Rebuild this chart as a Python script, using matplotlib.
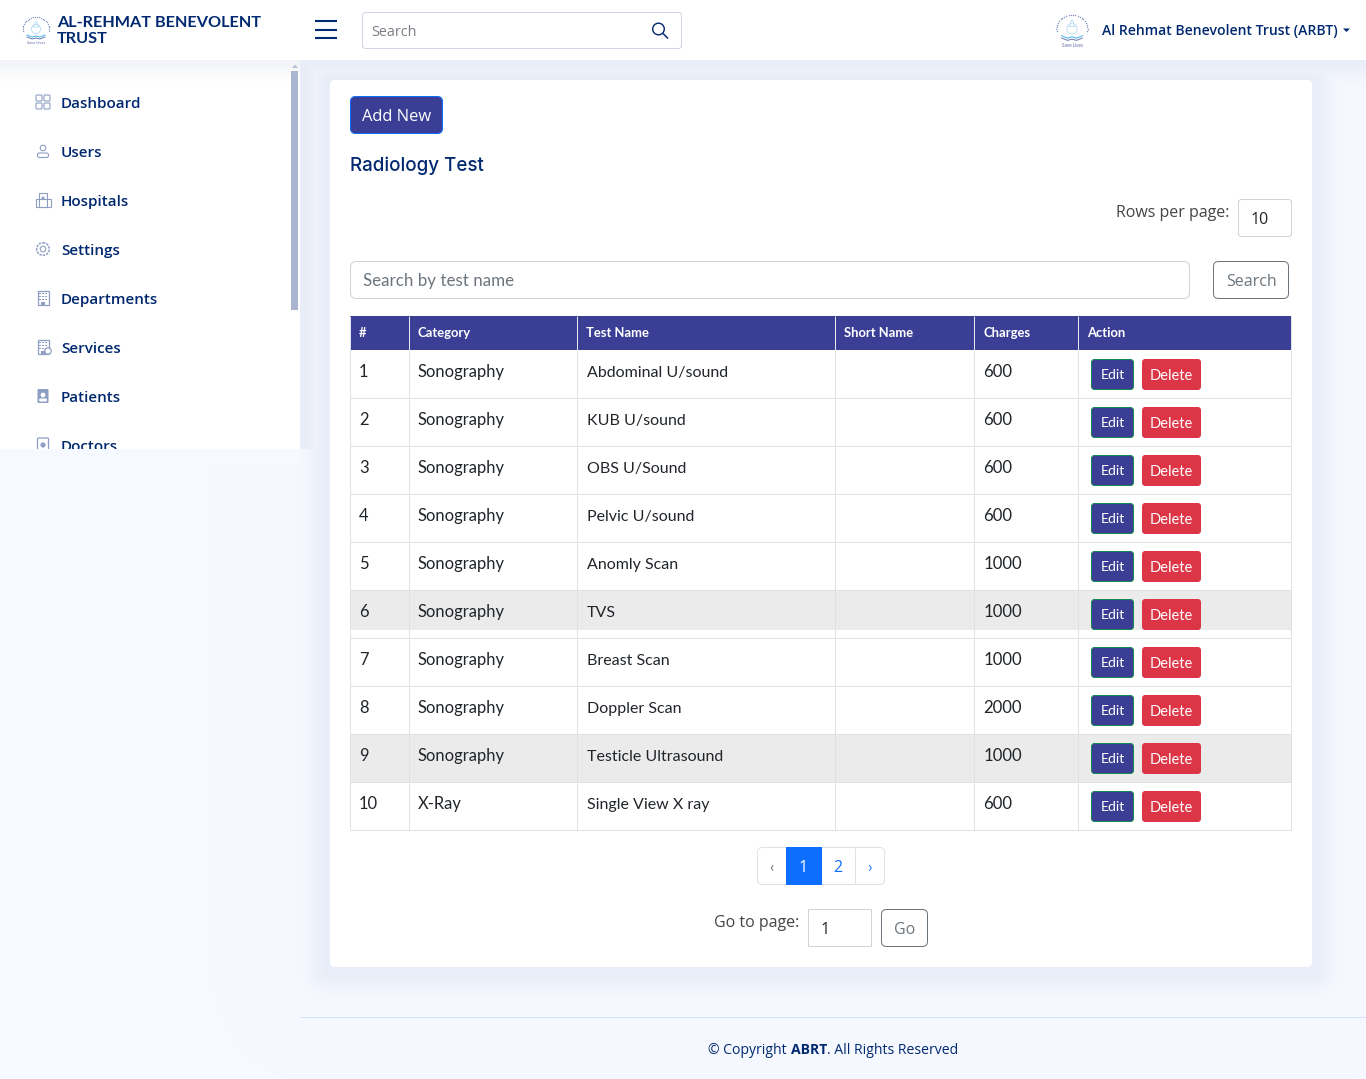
import numpy as np
import matplotlib
matplotlib.use("Agg")
import matplotlib.pyplot as plt
from matplotlib.patches import Rectangle, FancyBboxPatch, Circle, Polygon

row_ids = ["1", "2", "3", "4", "5", "6", "7", "8", "9", "10"]
categories = ["Sonography"] * 9 + ["X-Ray"]
test_names = ["Abdominal U/sound", "KUB U/sound", "OBS U/Sound", "Pelvic U/sound", "Anomly Scan",
              "TVS", "Breast Scan", "Doppler Scan", "Testicle Ultrasound", "Single View X ray"]
charges = ["600", "600", "600", "600", "1000", "1000", "1000", "2000", "1000", "600"]
highlight_heights = {6: 40, 9: 48}
columns = ["#", "Category", "Test Name", "Short Name", "Charges", "Action"]
nav_items = ["Dashboard", "Users", "Hospitals", "Settings", "Departments", "Services", "Patients", "Doctors"]

col_edges = [350, 409, 577, 835, 974, 1078, 1291]
NAVY = "#012970"
INDIGO = "#3a3f95"
BG = "#f6f9ff"
LINE = "#dee2e6"
ICON = "#8f9fc4"
BODY = "Lato"
UI = "Open Sans"
PX = 0.72  # one css pixel in points at dpi 100

fig = plt.figure(figsize=(13.66, 10.79), dpi=100, facecolor=BG)
ax = fig.add_axes([0, 0, 1, 1])
ax.set_xlim(0, 1366)
ax.set_ylim(1079, 0)
ax.axis("off")


def txt(x, y, s, px=16, color="#212529", font=BODY, weight="normal", ha="left", z=10):
    # baseline anchor, so that descenders do not move the words around
    return ax.text(x, y + 0.35 * px, s, fontsize=px * PX, color=color, family=font, weight=weight,
                   ha=ha, va="baseline", zorder=z)


def box(x, y, w, h, r=4, fc="white", ec="none", lw=PX, z=5):
    p = FancyBboxPatch((x + r, y + r), w - 2 * r, h - 2 * r, boxstyle="round,pad=%f,rounding_size=%f" % (r, r),
                       fc=fc, ec=ec, lw=lw, zorder=z)
    ax.add_patch(p)
    return p


def rect(x, y, w, h, fc, z=5):
    ax.add_patch(Rectangle((x, y), w, h, fc=fc, ec="none", lw=0, zorder=z))


def line(xs, ys, color=LINE, lw=PX, z=6):
    ax.plot(xs, ys, color=color, lw=lw, zorder=z, solid_capstyle="butt")


def rect_dist(X, Y, x0, y0, x1, y1):
    dx = np.maximum(np.maximum(x0 - X, X - x1), 0)
    dy = np.maximum(np.maximum(y0 - Y, Y - y1), 0)
    return np.hypot(dx, dy)


def logo(cx, cy, s=1.0):
    t = np.linspace(np.pi * 0.95, np.pi * 2.05, 24)
    ax.scatter(cx + 13.5 * s * np.cos(t), cy - 1 * s + 12 * s * np.sin(t), s=1.0 * s, color="#8c99c0",
               linewidths=0, zorder=12)
    ax.add_patch(Circle((cx, cy - 1 * s), 4.5 * s, fc="none", ec="#b5dcf0", lw=0.6, zorder=12))
    ax.add_patch(Polygon([[cx - 3 * s, cy - 3 * s], [cx, cy - 9 * s], [cx + 3 * s, cy - 3 * s]], fc="none",
                         ec="#b5dcf0", lw=0.6, zorder=12))
    xs = np.array([-9, -4, 0, 4, 9]) * s + cx
    ax.plot(xs, cy + np.array([5, 7, 6, 7, 5]) * s, color="#55bce8", lw=0.8, zorder=12)
    ax.plot(xs, cy + np.array([7, 9, 8, 9, 7]) * s, color="#6a77b0", lw=0.7, zorder=12)
    txt(cx, cy + 13 * s, "Save Lives", 4 * s, "#5a68a8", ha="center", z=12)


def nav_icon(kind, cx, cy):
    if kind == "Dashboard":
        for dx in (-4, 4):
            for dy in (-4, 4):
                box(cx + dx - 3, cy + dy - 3, 6, 6, r=1, fc="none", ec=ICON, lw=0.8, z=8)
    elif kind == "Users":
        ax.add_patch(Circle((cx, cy - 3), 2.8, fc="none", ec=ICON, lw=0.8, zorder=8))
        box(cx - 5.5, cy + 2, 11, 4.5, r=2, fc="none", ec=ICON, lw=0.8, z=8)
    elif kind == "Hospitals":
        ax.add_patch(Rectangle((cx - 4, cy - 7), 8, 14, fc="none", ec=ICON, lw=0.8, zorder=8))
        ax.add_patch(Rectangle((cx - 7.5, cy - 1), 15, 8, fc="none", ec=ICON, lw=0.8, zorder=8))
        ax.add_patch(Circle((cx, cy - 2), 1.5, fc=ICON, ec="none", zorder=9))
    elif kind == "Settings":
        ax.add_patch(Circle((cx, cy), 2.8, fc="none", ec=ICON, lw=0.8, zorder=8))
        ax.add_patch(Circle((cx, cy), 6.3, fc="none", ec=ICON, lw=1.1, ls=(0, (1.6, 0.7)), zorder=8))
    elif kind in ("Departments", "Services"):
        w = 5.5
        ax.add_patch(Rectangle((cx - w, cy - 7), 2 * w, 14, fc="none", ec=ICON, lw=0.9, zorder=8))
        for dx in (-3, 0, 3):
            for dy in (-4.5, -1.5, 1.5):
                rect(cx + dx - 0.8, cy + dy - 0.8, 1.6, 1.6, ICON, z=8)
        rect(cx - 2, cy + 4, 4, 3, ICON, z=8)
        if kind == "Services":
            ax.add_patch(Circle((cx + 5, cy + 4), 3.2, fc="white", ec=ICON, lw=0.9, zorder=9))
    elif kind == "Patients":
        box(cx - 5.5, cy - 7, 11, 14, r=1, fc=ICON, z=8)
        ax.add_patch(Circle((cx, cy - 1), 2.4, fc="white", ec="none", zorder=9))
        box(cx - 3.8, cy + 2.5, 7.6, 3, r=1, fc="white", z=9)
    elif kind == "Doctors":
        box(cx - 5.5, cy - 7, 11, 14, r=1, fc="none", ec=ICON, lw=0.9, z=8)
        ax.add_patch(Circle((cx, cy), 2.6, fc=ICON, ec="none", zorder=9))


# soft shadows as one background image, the css box-shadow does not survive stacked alpha in 8 bit
X, Y = np.meshgrid(np.arange(1366) + 0.5, np.arange(1079) + 0.5)
card_sh = np.exp(-(rect_dist(X, Y, 330, 83, 1312, 970) / 20.0) ** 2)
head_sh = np.exp(-(rect_dist(X, Y, 0, 0, 1366, 60) / 16.0) ** 2)
side_sh = np.exp(-(rect_dist(X, Y, 0, 60, 300, 449) / 20.0) ** 2)
side_sh[Y > 449] = 0
shade = np.maximum(np.maximum(card_sh, head_sh), side_sh)[..., None]
bg_rgb = np.array(matplotlib.colors.to_rgb(BG))
edge_rgb = np.array(matplotlib.colors.to_rgb("#e9edf7"))
ax.imshow(bg_rgb + shade * (edge_rgb - bg_rgb), extent=(0, 1366, 1079, 0), zorder=1, aspect="auto",
          interpolation="nearest")

# sidebar and header
rect(0, 60, 300, 389, "white", z=3)
rect(0, 0, 1366, 60, "white", z=5)

# the header also throws its shadow on the white sidebar
top_sh = np.zeros((30, 300, 4))
top_sh[..., :3] = matplotlib.colors.to_rgb(NAVY)
top_sh[..., 3] = 0.055 * np.exp(-((np.arange(30) + 0.5)[:, None] / 14.0) ** 2)
ax.imshow(top_sh, extent=(0, 300, 90, 60), zorder=3.5, aspect="auto", interpolation="nearest")
ax.set_xlim(0, 1366)
ax.set_ylim(1079, 0)

for i, name in enumerate(nav_items):
    y = 102 + 49 * i
    txt(61, y + 0.5, name, 15.2, NAVY, UI, "semibold", z=6)
    nav_icon(name, 43, y)
# last item is cut off by the end of the sidebar
rect(0, 449, 300, 14, BG, z=9)

rect(291, 71, 7, 239, "#aab5d0", z=6)
ax.add_patch(Polygon([[292, 68], [295, 64.5], [298, 68]], fc="#b5bfd6", ec="none", zorder=6))

logo(36, 30, 1.0)
txt(57, 21, "AL-REHMAT BENEVOLENT", 16.3, NAVY, BODY, "bold", z=12)
txt(57, 37, "TRUST", 16.3, NAVY, BODY, "bold", z=12)
for y in (21, 30, 38):
    line([315, 337], [y, y], NAVY, 1.5, z=12)

box(362.5, 12.5, 319, 36, r=3, fc="white", ec="#cfd6e6", z=6)
txt(371, 31, "Search", 14.4, "#7a7f85", UI, z=8)
ax.add_patch(Circle((658.5, 29), 5.8, fc="none", ec=NAVY, lw=1.0, zorder=8))
line([663, 668], [33.5, 38.5], NAVY, 1.1, z=8)

logo(1072, 30, 1.15)
txt(1102, 30, "Al Rehmat Benevolent Trust (ARBT)", 14, NAVY, UI, "semibold", z=8)
ax.add_patch(Polygon([[1343, 28.5], [1350, 28.5], [1346.5, 32]], fc=NAVY, ec="none", zorder=8))

# main card
box(330, 80, 982, 887, r=5, fc="white", z=6)

box(350.5, 96.5, 92, 37, r=5, fc=INDIGO, ec="#0d6efd", z=7)
txt(396.5, 115.5, "Add New", 16.5, "white", UI, ha="center")
txt(350, 164.5, "Radiology Test", 18.8, NAVY, "Inter", "medium")

txt(1229, 211.5, "Rows per page:", 16, "#444444", UI, ha="right")
box(1238.5, 199.5, 53, 37, r=3, fc="white", ec="#ced4da", z=7)
txt(1251, 218, "10", 16, "#212529", UI)

box(350.5, 261.5, 839, 37, r=6, fc="white", ec="#ced4da", z=7)
txt(363, 280.5, "Search by test name", 16.9, "#6c757d", BODY)
box(1213.5, 261.5, 75, 37, r=5, fc="white", ec="#6c757d", z=7)
txt(1251, 280.5, "Search", 16, "#6c757d", UI, ha="center")

# table, one row is 48px
head_top, head_bot, row_h = 316, 350, 48
table_bot = head_bot + row_h * len(row_ids)
rect(col_edges[0], head_top, col_edges[-1] - col_edges[0], head_bot - head_top, INDIGO, z=7)
for i, name in enumerate(columns):
    txt(col_edges[i] + 9, 332.5, name, 13, "white", BODY, "bold")
    if i > 0:
        line([col_edges[i]] * 2, [head_top, head_bot], "#e8e9f2", z=8)

for i, rid in enumerate(row_ids):
    top = head_bot + row_h * i
    if i + 1 in highlight_heights:
        rect(col_edges[0], top, col_edges[-1] - col_edges[0], highlight_heights[i + 1], "#ebebeb", z=6.5)
    texty = top + 21
    txt(col_edges[0] + 9, texty, rid, 16.5)
    txt(col_edges[1] + 8.5, texty, categories[i], 16.5)
    txt(col_edges[2] + 10, texty, test_names[i], 16)
    txt(col_edges[4] + 9.5, texty, charges[i], 16.8)
    box(1091.5, top + 9.5, 42, 30, r=3, fc=INDIGO, ec="#198754", z=8)
    txt(1112.5, top + 24.5, "Edit", 14, "white", BODY, ha="center")
    box(1142, top + 9, 59, 31, r=3.5, fc="#dc3545", z=8)
    txt(1171.5, top + 24.5, "Delete", 14.6, "white", BODY, ha="center")
    line([col_edges[0], col_edges[-1]], [top + row_h] * 2, z=7)

for x in col_edges:
    line([x] * 2, [head_bot if x not in (350, 1291) else head_top, table_bot], z=7)

# pagination
box(757.5, 847.5, 127, 37, r=5, fc="white", ec=LINE, z=7)
rect(786, 847, 36, 38, "#0d6efd", z=8)
line([855, 855], [848, 884], LINE, z=8)
txt(772, 866.5, "‹", 16, "#6c757d", BODY, ha="center")
txt(803.5, 866.5, "1", 16, "white", UI, ha="center")
txt(838, 866.5, "2", 16, "#0d6efd", UI, ha="center")
txt(870, 866.5, "›", 16, "#0d6efd", BODY, ha="center")

txt(799, 921, "Go to page:", 16, "#444444", UI, ha="right")
box(808.5, 909.5, 63, 37, r=0.5, fc="white", ec="#ced4da", z=7)
txt(821, 928.5, "1", 16, "#212529", UI)
box(881.5, 909.5, 46, 37, r=5, fc="white", ec="#6c757d", z=7)
txt(904.5, 928.5, "Go", 16, "#6c757d", UI, ha="center")

# footer
line([300, 1366], [1017, 1017], "#d5e2f5", z=3)
fig.canvas.draw()
renderer = fig.canvas.get_renderer()
x = 708.5
for s, w in [("© Copyright ", "normal"), ("ABRT", "bold"), (". All Rights Reserved", "normal")]:
    t = txt(x, 1049, s.replace(" ", "\u00a0"), 14, NAVY, UI, w)
    x = ax.transData.inverted().transform((t.get_window_extent(renderer).x1, 0))[0]

fig.savefig("out.png", dpi=100, facecolor=BG)
